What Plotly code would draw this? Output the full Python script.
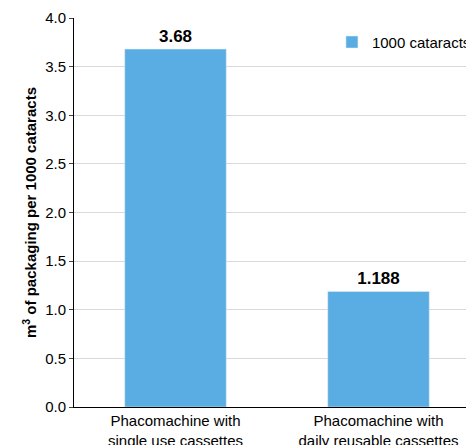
import plotly.graph_objects as go

categories = ["Phacomachine with<br>single use cassettes", "Phacomachine with<br>daily reusable cassettes"]
values = [3.68, 1.188]
labels = ["<b>3.68</b>", "<b>1.188</b>"]

fig = go.Figure(go.Bar(x=categories, y=values, name="1000 cataracts", marker_color="#5aade2",
                       width=0.5, text=labels, textposition="outside",
                       textfont=dict(size=17, color="black", family="Liberation Sans, Arial"),
                       cliponaxis=False, showlegend=True))
fig.update_layout(
    width=474, height=445, margin=dict(l=66, r=2, t=10, b=46),
    plot_bgcolor="white", paper_bgcolor="white",
    font=dict(family="Liberation Sans, Arial", size=15, color="black"),
    legend=dict(x=0.99, y=0.98, xanchor="right", yanchor="top", font=dict(size=15)),
)
fig.update_yaxes(range=[0, 4.0], dtick=0.5, tickformat=".1f", gridcolor="#d9d9d9",
                 showline=True, linecolor="black", ticks="outside", ticklen=4,
                 tickfont=dict(size=15),
                 title=dict(text="<b>m<sup>3</sup> of packaging per 1000 cataracts</b>", font=dict(size=15), standoff=4))
fig.update_xaxes(showline=True, linecolor="black", tickfont=dict(size=15))
fig.write_html("out.html")
